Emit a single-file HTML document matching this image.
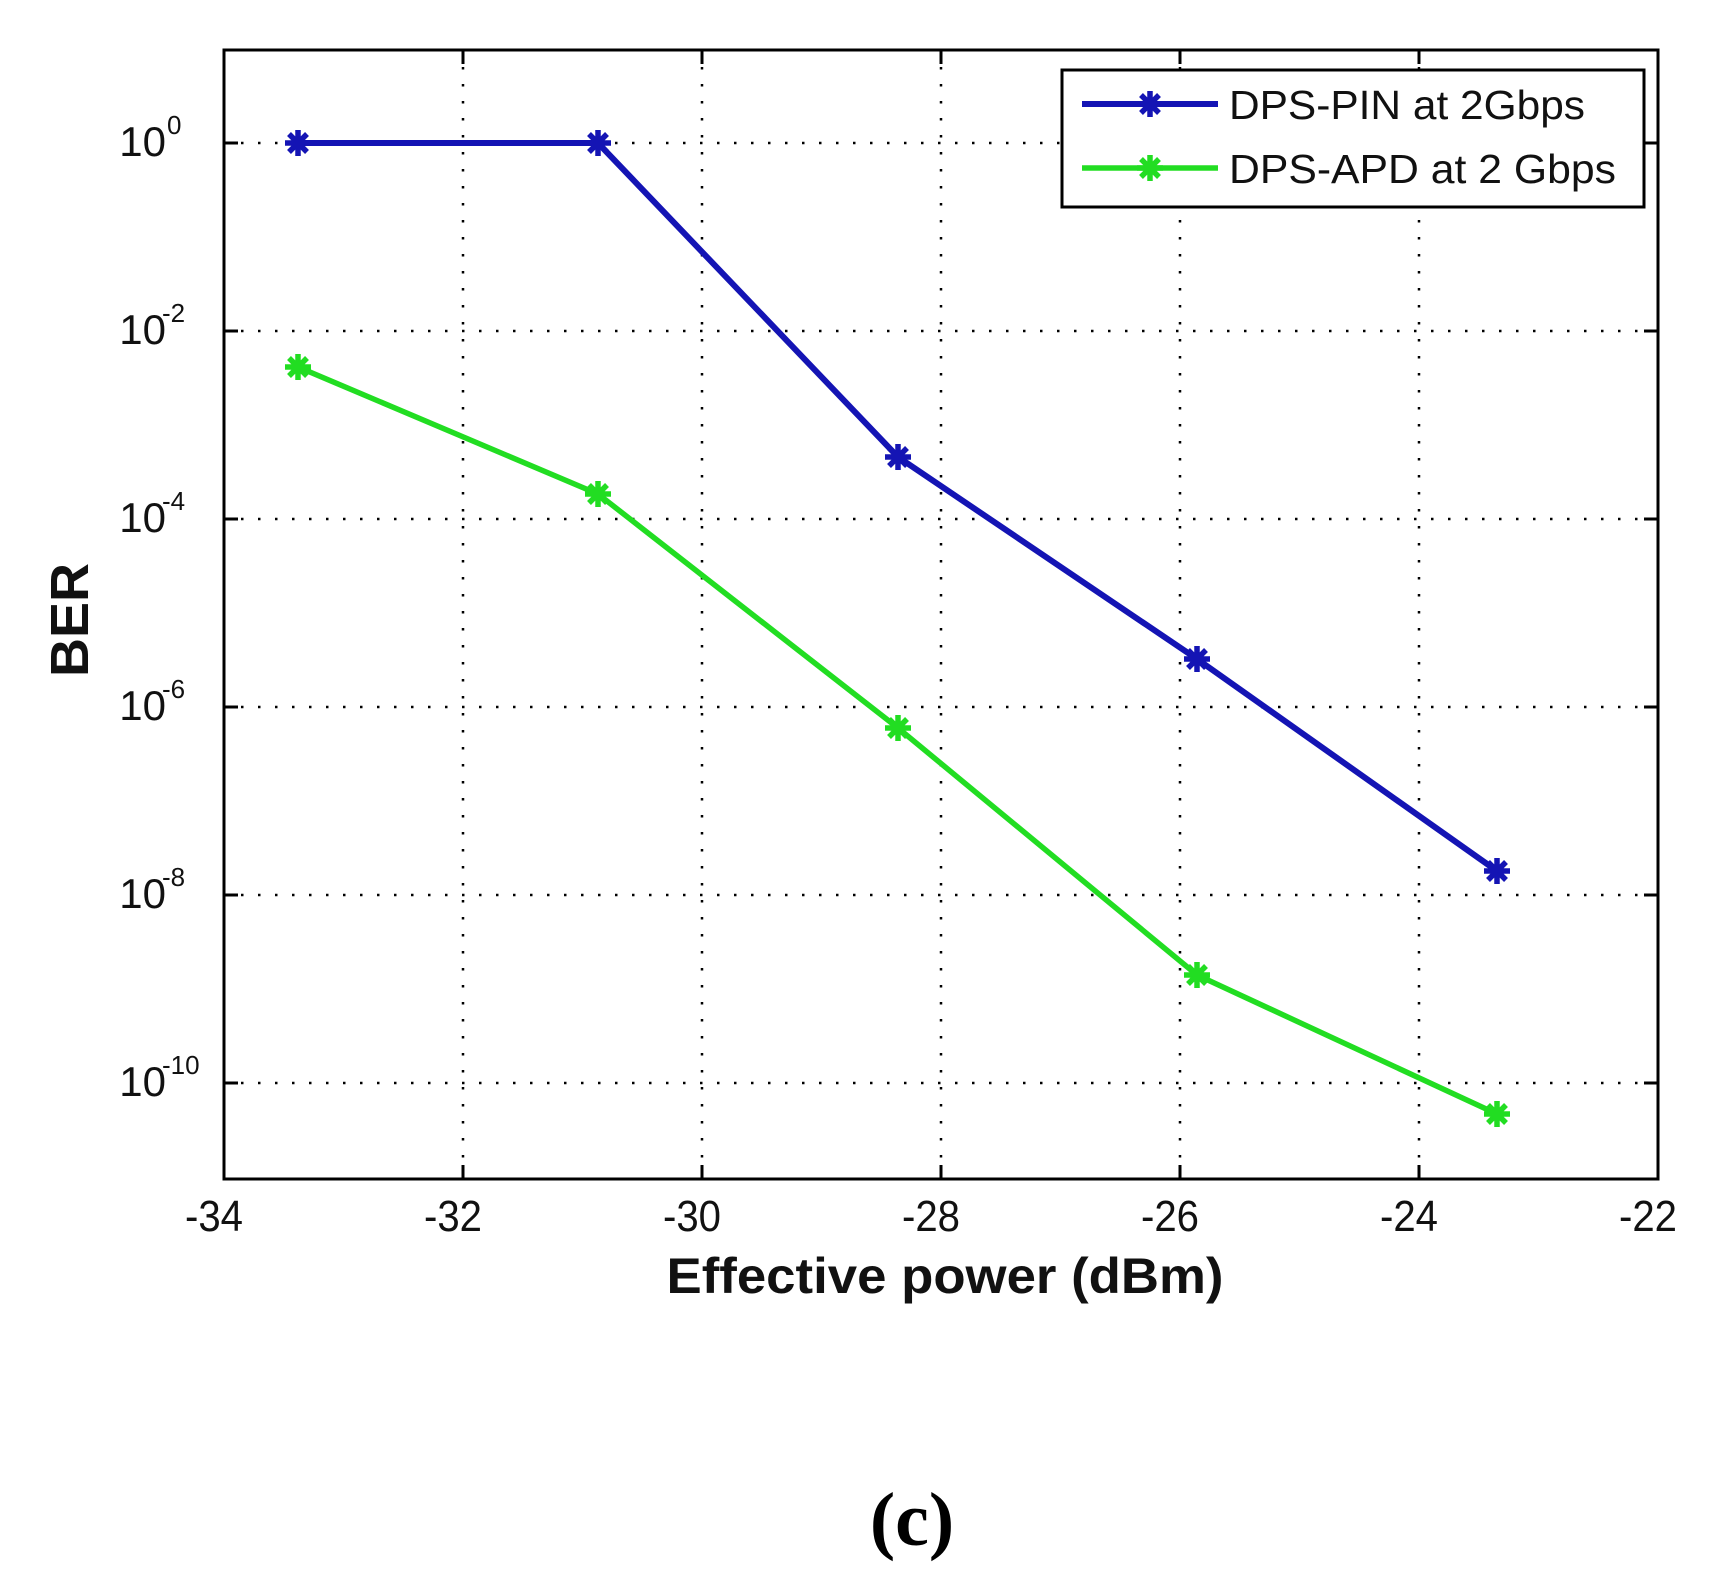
<!DOCTYPE html>
<html><head><meta charset="utf-8"><style>html,body{margin:0;padding:0;background:#fff}svg{display:block}</style></head>
<body>
<svg width="1736" height="1576" viewBox="0 0 1736 1576" xmlns="http://www.w3.org/2000/svg">
<rect width="1736" height="1576" fill="#fff"/>
<g stroke="#000" stroke-width="2.5" stroke-dasharray="2.5 14.5" fill="none">
<line x1="463" y1="50" x2="463" y2="1179"/><line x1="702" y1="50" x2="702" y2="1179"/>
<line x1="941" y1="50" x2="941" y2="1179"/><line x1="1180" y1="50" x2="1180" y2="1179"/>
<line x1="1419" y1="50" x2="1419" y2="1179"/>
<line x1="224" y1="143" x2="1658" y2="143"/><line x1="224" y1="331" x2="1658" y2="331"/>
<line x1="224" y1="519" x2="1658" y2="519"/><line x1="224" y1="707" x2="1658" y2="707"/>
<line x1="224" y1="895" x2="1658" y2="895"/><line x1="224" y1="1083" x2="1658" y2="1083"/>
</g>
<g stroke="#000" stroke-width="3">
<path d="M463 1179v-14M702 1179v-14M941 1179v-14M1180 1179v-14M1419 1179v-14M463 50v14M702 50v14M941 50v14M1180 50v14M1419 50v14"/>
<path d="M224 143h14M224 331h14M224 519h14M224 707h14M224 895h14M224 1083h14M1658 143h-14M1658 331h-14M1658 519h-14M1658 707h-14M1658 895h-14M1658 1083h-14"/>
<rect x="224" y="50" width="1434" height="1129" fill="none"/>
</g>
<defs>
<g id="mk"><path d="M-13 0H13M0 -13V13M-9 -9L9 9M-9 9L9 -9" stroke-width="5.5"/></g>
</defs>
<g stroke="#1414b4" fill="none">
<polyline points="298,143 598,143 898,457 1197,659 1497,871" stroke-width="6" stroke-linejoin="round"/>
<use href="#mk" x="298" y="143"/><use href="#mk" x="598" y="143"/><use href="#mk" x="898" y="457"/><use href="#mk" x="1197" y="659"/><use href="#mk" x="1497" y="871"/>
</g>
<g stroke="#22dd22" fill="none">
<polyline points="298,367 598,494 898,728 1197,975 1497,1114" stroke-width="5.5" stroke-linejoin="round"/>
<use href="#mk" x="298" y="367"/><use href="#mk" x="598" y="494"/><use href="#mk" x="898" y="728"/><use href="#mk" x="1197" y="975"/><use href="#mk" x="1497" y="1114"/>
</g>
<rect x="1062" y="70" width="582" height="137" fill="#fff" stroke="#000" stroke-width="3"/>
<line x1="1082" y1="104" x2="1218" y2="104" stroke="#1414b4" stroke-width="6"/>
<use href="#mk" x="1150" y="104" stroke="#1414b4"/>
<line x1="1082" y1="168" x2="1218" y2="168" stroke="#22dd22" stroke-width="5.5"/>
<use href="#mk" x="1150" y="168" stroke="#22dd22"/>
<g font-family="Liberation Sans, sans-serif" fill="#111">
<text x="1229" y="119" font-size="41" textLength="356" lengthAdjust="spacingAndGlyphs">DPS-PIN at 2Gbps</text>
<text x="1229" y="183" font-size="41" textLength="387" lengthAdjust="spacingAndGlyphs">DPS-APD at 2 Gbps</text>
<g font-size="44" text-anchor="middle">
<text x="214" y="1231" textLength="58" lengthAdjust="spacingAndGlyphs">-34</text><text x="453" y="1231" textLength="58" lengthAdjust="spacingAndGlyphs">-32</text><text x="692" y="1231" textLength="58" lengthAdjust="spacingAndGlyphs">-30</text>
<text x="931" y="1231" textLength="58" lengthAdjust="spacingAndGlyphs">-28</text><text x="1170" y="1231" textLength="58" lengthAdjust="spacingAndGlyphs">-26</text><text x="1409" y="1231" textLength="58" lengthAdjust="spacingAndGlyphs">-24</text><text x="1648" y="1231" textLength="58" lengthAdjust="spacingAndGlyphs">-22</text>
</g>
<g font-size="42" text-anchor="end">
<text x="166" y="156">10</text><text x="166" y="344">10</text><text x="166" y="532">10</text>
<text x="166" y="720">10</text><text x="166" y="908">10</text><text x="166" y="1096">10</text>
</g>
<g font-size="26">
<text x="167" y="134">0</text><text x="162" y="322">-2</text><text x="162" y="510">-4</text>
<text x="162" y="698">-6</text><text x="162" y="886">-8</text><text x="162" y="1074">-10</text>
</g>
<text x="945" y="1293" font-size="50" font-weight="bold" text-anchor="middle" textLength="557" lengthAdjust="spacingAndGlyphs">Effective power (dBm)</text>
<text transform="translate(88,620) rotate(-90)" font-size="54" font-weight="bold" text-anchor="middle">BER</text>
</g>
<text x="912" y="1545" font-family="Liberation Serif, serif" font-size="76" font-weight="bold" text-anchor="middle" fill="#000">(c)</text>
</svg>
</body></html>
